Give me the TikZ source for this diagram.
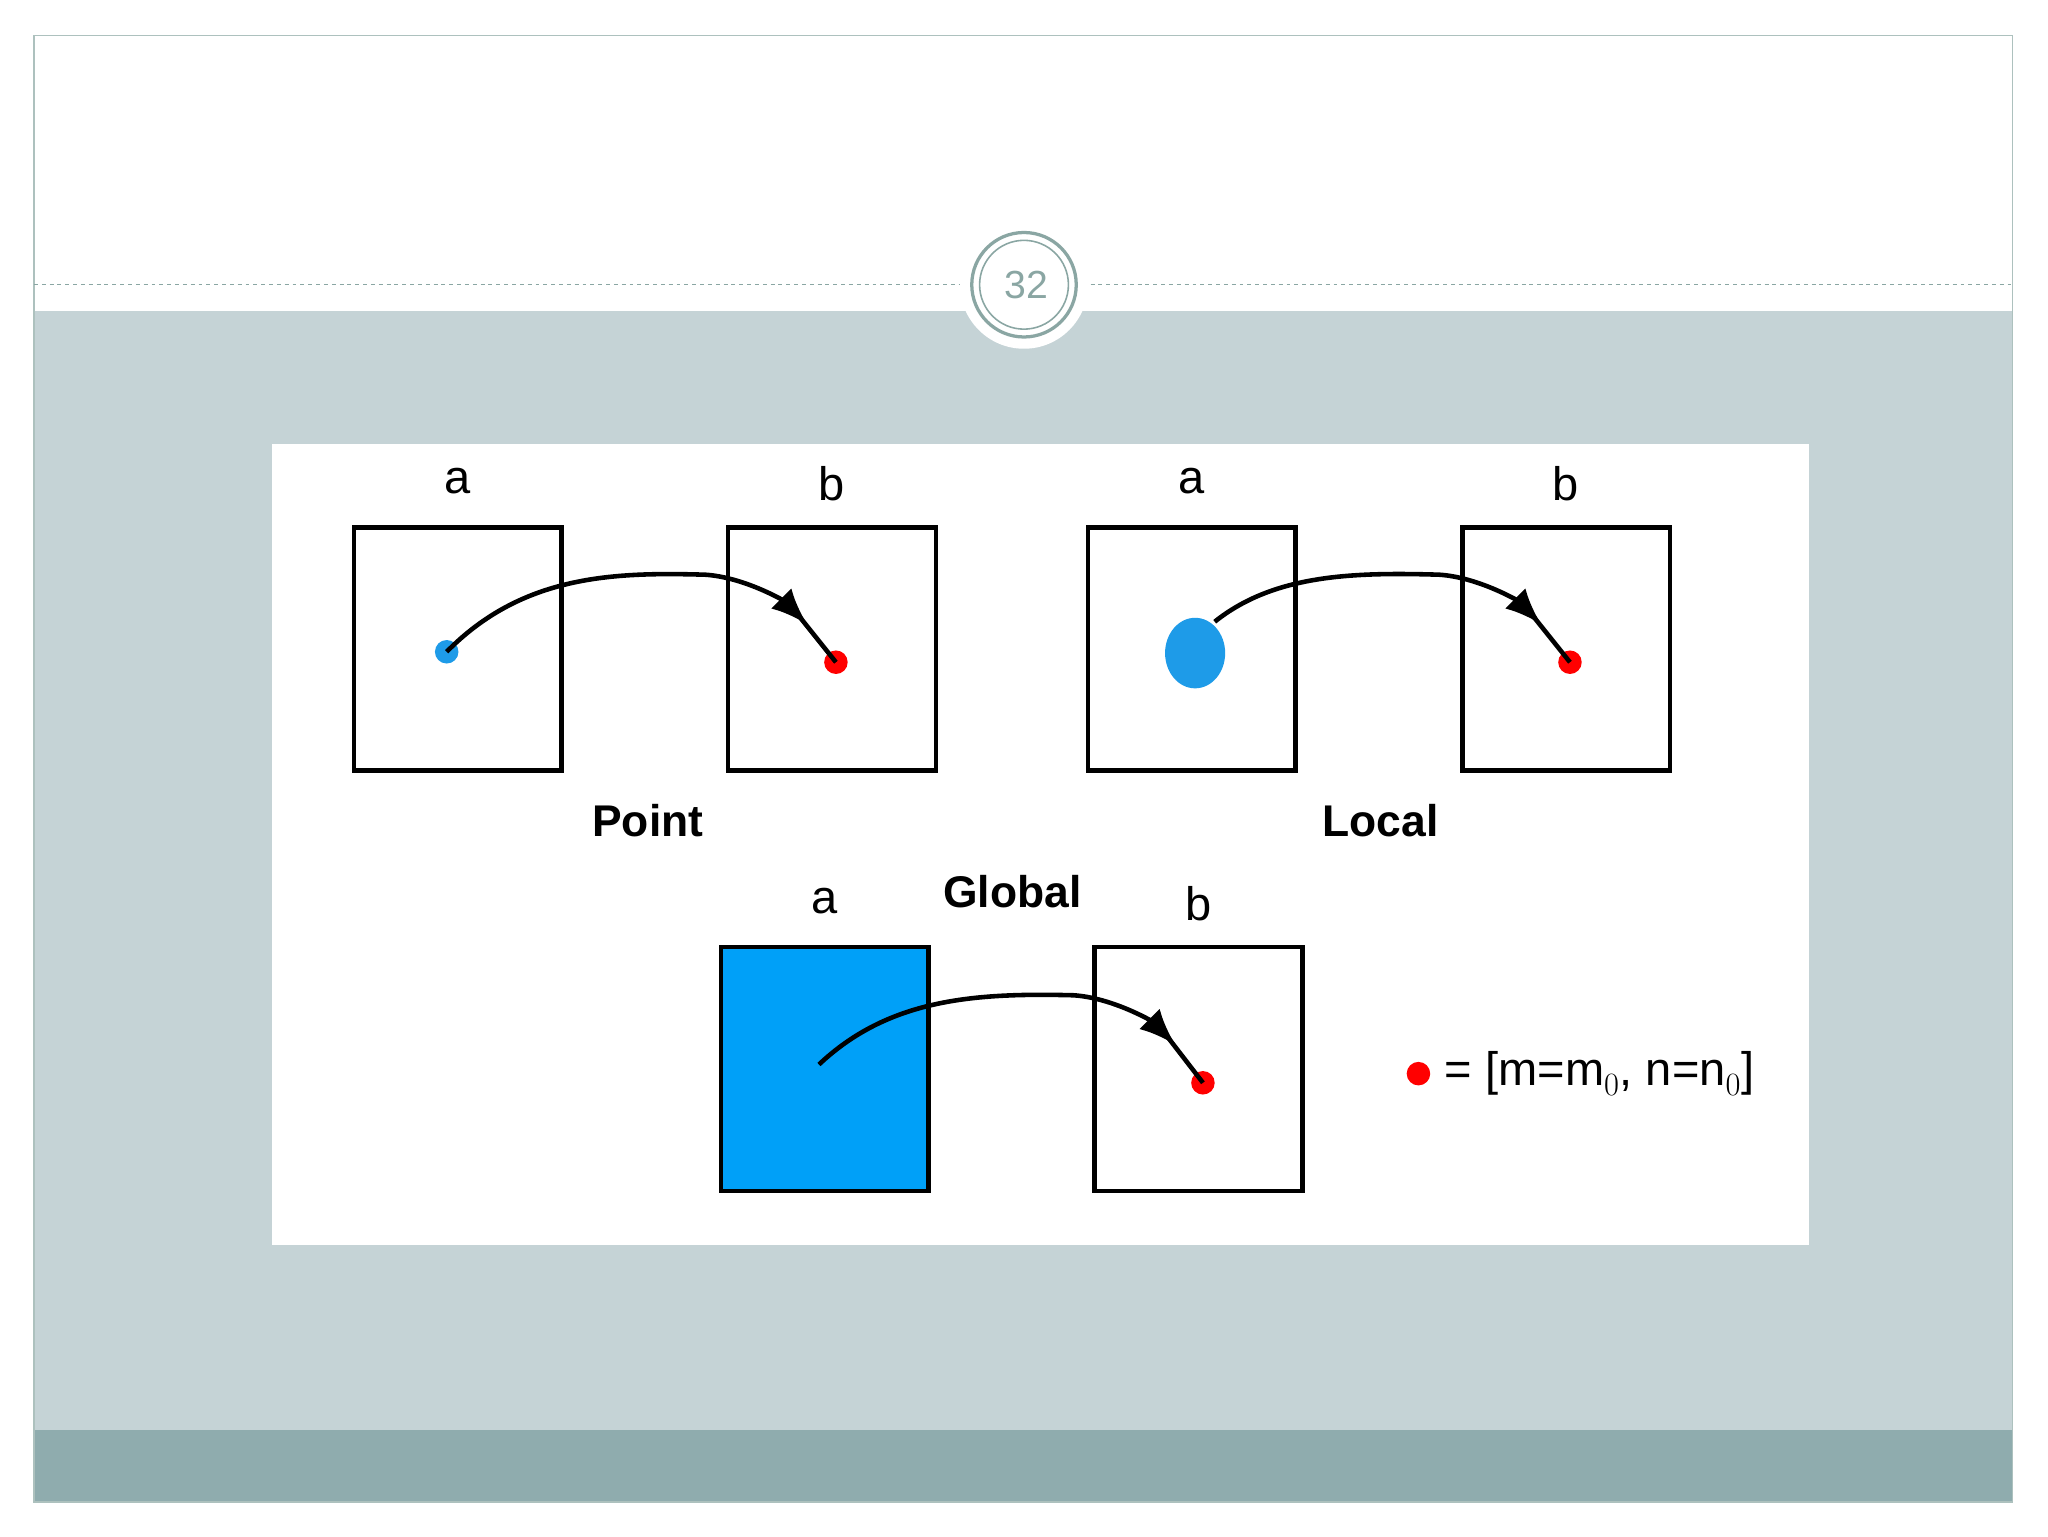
\documentclass[tikz,border=0pt]{standalone}
\usepackage{fontspec}
\setmainfont{Liberation Sans}
\usetikzlibrary{arrows.meta,shapes.geometric}
\definecolor{band}{HTML}{C5D3D6}
\definecolor{bar}{HTML}{8FACAE}
\definecolor{ring}{HTML}{8AA6A3}
\definecolor{fillblue}{HTML}{00A0F8}
\definecolor{dotblue}{HTML}{1E9BE8}
\begin{document}
\begin{tikzpicture}[x=1pt,y=-1pt,
  box/.style={draw=black,line width=3.5pt},
  lbl/.style={font=\fontsize{36}{40}\selectfont},
  ttl/.style={font=\bfseries\fontsize{34}{40}\selectfont},
  conn/.style={line width=3.5pt,-{Latex[length=28pt,width=22pt]}},
  reddot/.style={circle,fill=red,inner sep=0pt,minimum size=18pt},
]
\useasboundingbox (0,0) rectangle (1568,1176);
\fill[white] (0,0) rectangle (1568,1176);
\fill[band] (26,238) rectangle (1541,1095);
\fill[bar] (26,1095) rectangle (1541,1150);
\draw[ring!70,line width=1pt] (26,27) rectangle (1541,1150);
\draw[ring,dashed,line width=0.8pt] (26,218) -- (735,218);
\draw[ring,dashed,line width=0.8pt] (835,218) -- (1541,218);
\fill[white] (784,218) circle (49);
\draw[ring,line width=2.5pt] (784,218) circle (40);
\draw[ring,line width=1.2pt] (784,218) circle (34);
\node[text=ring,font=\fontsize{30}{32}\selectfont\rmfamily] (num) at (786,218) {32};
\fill[white] (208,340) rectangle (1385,953);
% Point
\node[box,minimum width=159pt,minimum height=186pt,inner sep=0pt] (pa) at (350.5,497) {};
\node[box,minimum width=159pt,minimum height=186pt,inner sep=0pt] (pb) at (637,497) {};
\node[lbl] (pal) at (350,368) {a};
\node[lbl] (pbl) at (637,370) {b};
\node[ttl] (pt) at (496,628) {Point};
\node[circle,fill=dotblue,inner sep=0pt,minimum size=18pt] (pd) at (342,499) {};
\node[reddot] (pr) at (640,507) {};
\draw[conn] (pd.center) .. controls (400,440) and (470,438) .. (540,440) .. controls (570,442) and (600,460) .. (618,478);
\draw[line width=3.5pt] (612,472) -- (pr.center);
% Local
\node[box,minimum width=159pt,minimum height=186pt,inner sep=0pt] (la) at (912.5,497) {};
\node[box,minimum width=159pt,minimum height=186pt,inner sep=0pt] (lb) at (1199,497) {};
\node[lbl] (lal) at (912,368) {a};
\node[lbl] (lbl2) at (1199,370) {b};
\node[ttl] (lt) at (1057,628) {Local};
\node[ellipse,fill=dotblue,inner sep=0pt,minimum width=46pt,minimum height=54pt] (ld) at (915,500) {};
\node[reddot] (lr) at (1202,507) {};
\draw[conn] (930,476) .. controls (975,440) and (1035,438) .. (1102,440) .. controls (1132,442) and (1162,460) .. (1180,478);
\draw[line width=3.5pt] (1174,472) -- (lr.center);
% Global
\node[box,fill=fillblue,minimum width=159pt,minimum height=187pt,inner sep=0pt] (ga) at (631.5,818.5) {};
\node[box,minimum width=159pt,minimum height=187pt,inner sep=0pt] (gb) at (917.5,818.5) {};
\node[lbl] (gal) at (631,690) {a};
\node[lbl] (gbl) at (918,692) {b};
\node[ttl] (gt) at (775,683) {Global};
\coordinate (gs) at (627,815);
\node[reddot] (gr) at (921,829) {};
\draw[conn] (gs) .. controls (680,765) and (745,760) .. (822,762) .. controls (852,764) and (882,782) .. (900,800);
\draw[line width=3.5pt] (894,794) -- (gr.center);
% legend
\node[reddot] (leg) at (1086,822) {};
\node[lbl,anchor=west,inner sep=0pt] (legt) at (1106,822) {= [m=m$_0$, n=n$_0$]};
\end{tikzpicture}
\end{document}
